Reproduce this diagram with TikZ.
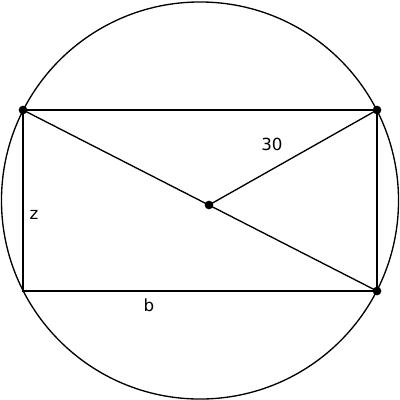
\documentclass[tikz,border=0pt]{standalone}
\usepackage{fontspec}
\setmainfont{DejaVu Sans}
\tikzset{
  dot/.style={
    circle,
    fill=black,
    inner sep=0pt,
    minimum size=6.5pt
    },
  edge/.style={line width=1pt},
  lbl/.style={font=\fontsize{12.5}{14}\selectfont},
}
\begin{document}
\begin{tikzpicture}[x=0.75pt,y=-0.75pt]
\useasboundingbox (0,0) rectangle (400,400);
\node (tl) [dot] at (23,110) {};
\node (tr) [dot] at (377,110) {};
\node (br) [dot] at (377,291) {};
\coordinate (bl) at (23,291);
\node (mid) [dot] at (209,205) {};
\draw[edge] (200,200.5) circle [radius=148.9pt];
\draw[edge] (tl.center) -- (tr.center) -- (br.center) -- (bl) -- cycle;
\draw[edge] (tl.center) -- (br.center);
\draw[edge] (mid.center) -- (tr.center);
\node (side) [lbl] at (34,215) {z};
\node (base) [lbl] at (149,305) {b};
\node (ang) [lbl] at (272,144) {30};
\end{tikzpicture}
\end{document}
